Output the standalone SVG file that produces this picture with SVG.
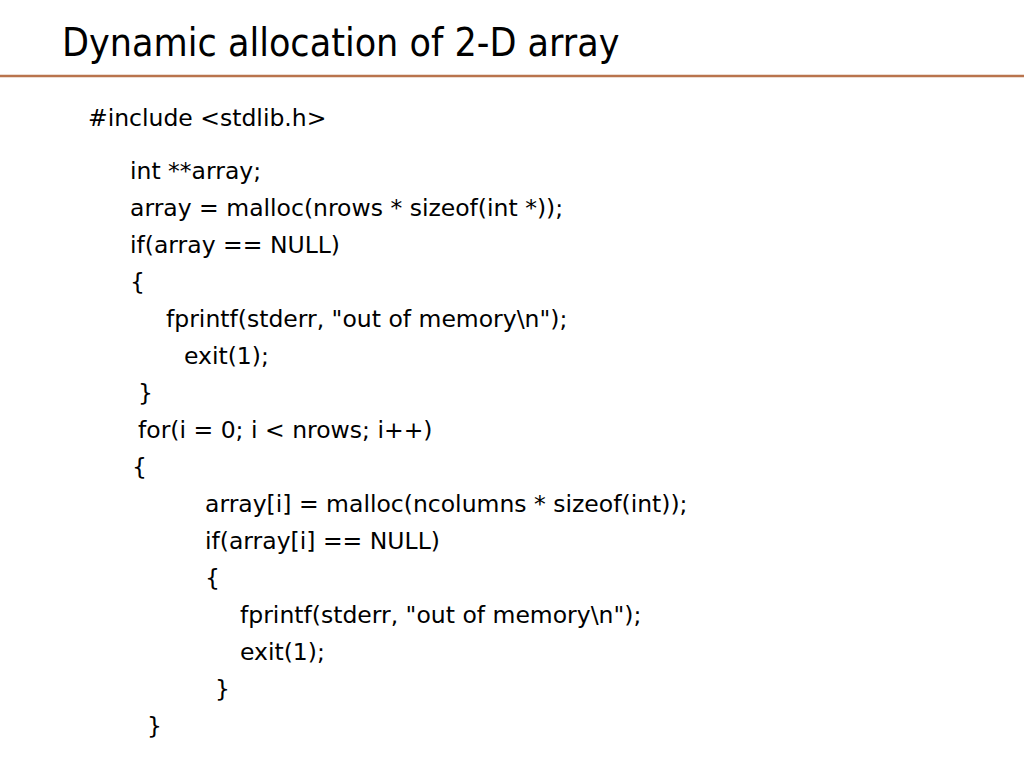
<svg xmlns="http://www.w3.org/2000/svg" width="1024" height="768" viewBox="0 0 1024 768">
<style>
.t{font-family:"DejaVu Sans Condensed","DejaVu Sans",sans-serif;fill:#000}
.c{font-family:"DejaVu Sans",sans-serif;font-size:23.5px}
</style>
<rect width="1024" height="768" fill="#fff"/>
<text class="t" x="62" y="56" font-size="39">Dynamic allocation of 2-D array</text>
<line x1="0" y1="76" x2="1024" y2="76" stroke="#b9744d" stroke-width="2.5"/>
<g class="t c">
<text x="88" y="126">#include &lt;stdlib.h&gt;</text>
<text x="130" y="179">int **array;</text>
<text x="130" y="216">array = malloc(nrows * sizeof(int *));</text>
<text x="130" y="253">if(array == NULL)</text>
<text x="130" y="290">{</text>
<text x="166" y="327">fprintf(stderr, "out of memory\n");</text>
<text x="184" y="364">exit(1);</text>
<text x="138" y="401">}</text>
<text x="138" y="438">for(i = 0; i &lt; nrows; i++)</text>
<text x="132" y="475">{</text>
<text x="205" y="512">array[i] = malloc(ncolumns * sizeof(int));</text>
<text x="205" y="549">if(array[i] == NULL)</text>
<text x="205" y="586">{</text>
<text x="240" y="623">fprintf(stderr, "out of memory\n");</text>
<text x="240" y="660">exit(1);</text>
<text x="215" y="697">}</text>
<text x="147" y="734">}</text>
</g>
</svg>
